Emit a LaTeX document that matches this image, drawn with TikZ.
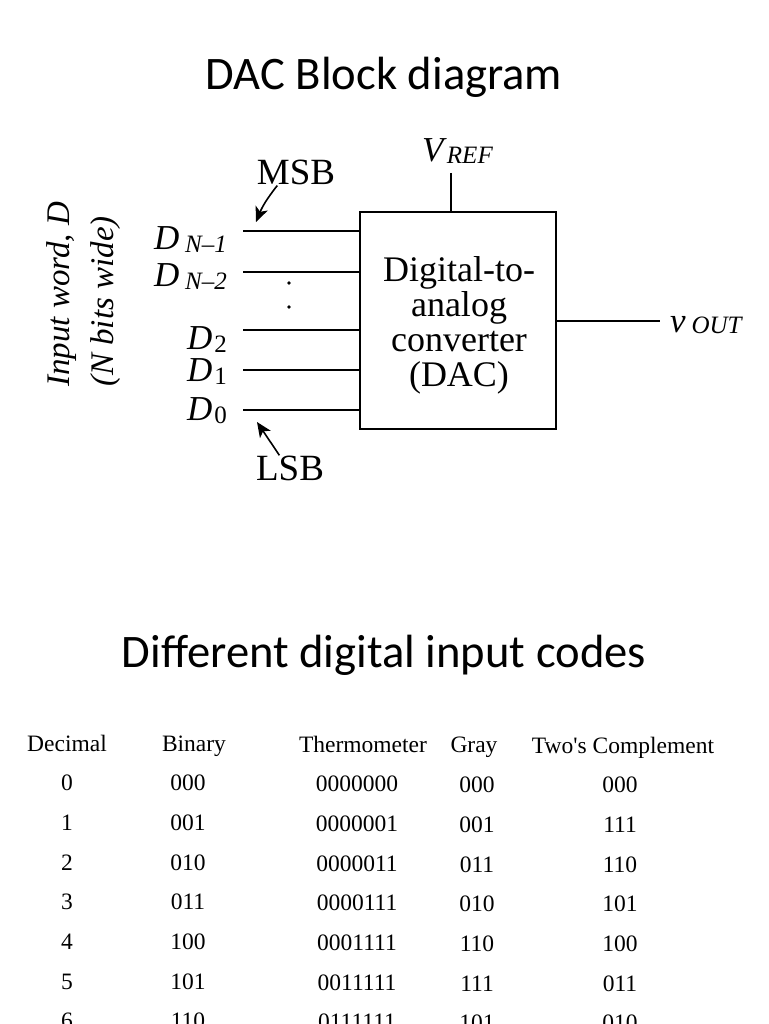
\documentclass[tikz,border=0pt]{standalone}
\usepackage{fontspec}
\setmainfont{Liberation Serif}
\newfontfamily\titlefont{Carlito}
\newfontfamily\cellfont{Liberation Serif}
\usetikzlibrary{positioning,arrows.meta}
\newcommand{\subtxt}[2][-3.5pt]{\raisebox{#1}{\fontsize{25}{25}\selectfont\textit{#2}}}
\tikzset{
    wire/.style={line width=1.5pt},
    pointer/.style={line width=1.6pt,-{Stealth[length=15pt,width=13pt,inset=4pt]}},
    title/.style={font=\titlefont\fontsize{46.6}{46.6}\selectfont,inner sep=0pt,anchor=base},
    sig/.style={font=\fontsize{35}{35}\selectfont,inner sep=0pt},
    side/.style={font=\fontsize{37}{37}\selectfont,inner sep=0pt,anchor=base},
    word/.style={font=\fontsize{33}{33}\selectfont\itshape,inner sep=0pt,rotate=90,anchor=base west},
    cell/.style={font=\cellfont\fontsize{23.5}{23.5}\selectfont,inner sep=0pt,anchor=base}
}
\begin{document}
\begin{tikzpicture}[x=1pt,y=-1pt]
\useasboundingbox (0,0) rectangle (768,1024);
\clip (0,0) rectangle (768,1024);
\fill[white] (0,0) rectangle (768,1024);

% Titles
\node[title] (blocktitle) at (384,90) {DAC Block diagram};
\node[title] (codetitle) at (384,667) {Different digital input codes};

% Converter
\node[draw,line width=1.8pt,minimum width=196pt,minimum height=217pt] (dac) at (458,320.5) {};
\node[align=center,inner sep=0pt,font=\fontsize{36}{35}\selectfont] (dactext) at (459,325) {Digital-to-\\analog\\converter\\(DAC)};

% Reference and output
\node[sig,anchor=base west] (vref) at (422,162) {\textit{V}\subtxt[-2pt]{REF}};
\coordinate (vrefend) at (451,173);
\draw[line width=1.2pt] (vrefend) -- (vrefend |- dac.north);
\node[sig,anchor=base west] (vout) at (670,332) {\textit{v}\,\subtxt[-1pt]{OUT}};
\draw[wire] (dac.east |- 0,321) -- (660,321);

% Input lines
\foreach \nm/\y in {dna/231,dnb/272,dtwo/330,done/370,dzero/410}
    \coordinate (\nm end) at (243,\y);
\foreach \nm in {dna,dnb,dtwo,done,dzero}
    \draw[wire] (\nm end) -- (\nm end -| dac.west);

% Input labels
\node[sig,anchor=base east] (dna) at (227,249) {\textit{D}\,\subtxt{N--1}};
\node[sig,anchor=base east] (dnb) at (227,286) {\textit{D}\,\subtxt{N--2}};
\node[sig,anchor=base east] (dtwo) at (227,349) {\textit{D}\kern2pt\subtxt{\upshape 2}};
\node[sig,anchor=base east] (done) at (227,381) {\textit{D}\kern2pt\subtxt{\upshape 1}};
\node[sig,anchor=base east] (dzero) at (227,420) {\textit{D}\kern2pt\subtxt{\upshape 0}};

% Dots between the inputs
\fill (289,283) circle (1.8pt) (289,307) circle (1.8pt);

% MSB and LSB
\node[side] (msb) at (296,185) {MSB};
\node[side] (lsb) at (290,480) {LSB};
\coordinate (msbtip) at (256,222);
\coordinate (lsbtip) at (257,422);
\draw[pointer] (msb.214) to[bend right=8] (msbtip);
\draw[pointer] (lsb.130) -- (lsbtip);

% Input word label
\node[word] (inword) at (69,387) {Input word, D};
\node[word] (inwide) at (113,387) {(N bits wide)};

% Table head
\node[cell] (hdec) at (67,751) {Decimal};
\node[cell] (hbin) at (194,751) {Binary};
\node[cell] (hthe) at (363,752) {Thermometer};
\node[cell] (hgra) at (474,752) {Gray};
\node[cell] (hcom) at (623,753) {Two's Complement};

% Table rows
\foreach \y/\d/\b/\t/\g/\c in {
    790/0/000/0000000/000/000,
    830/1/001/0000001/001/111,
    870/2/010/0000011/011/110,
    909/3/011/0000111/010/101,
    949/4/100/0001111/110/100,
    989/5/101/0011111/111/011,
    1028/6/110/0111111/101/010}{
    \node[cell] (dec\d) at (67,\y) {\d};
    \node[cell] (bin\d) at (188,\y) {\b};
    \node[cell] (the\d) at (357,\y+1) {\t};
    \node[cell] (gra\d) at (477,\y+2) {\g};
    \node[cell] (com\d) at (620,\y+2) {\c};
}
\end{tikzpicture}
\end{document}
